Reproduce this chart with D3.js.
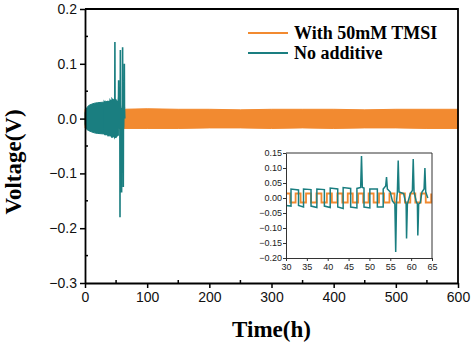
<!DOCTYPE html>
<html>
<head>
<meta charset="utf-8">
<script src="https://cdn.jsdelivr.net/npm/d3@7"></script>
<style>
  body { margin: 0; background: #fff; }
  svg { display: block; }
</style>
</head>
<body>
<svg></svg>
<script>
/*global d3*/

// 系列名称
let seriesNames = ['With 50mM TMSI', 'No additive'];
let colors = ['#F28A30', '#1A7E80'];

// 主图刻度
let xTicks = [0, 100, 200, 300, 400, 500, 600];
let yTicks = [0.2, 0.1, 0.0, -0.1, -0.2, -0.3];

// 主图：加 TMSI 的电压包络 (时间, 上沿, 下沿)
let orangeT = [0, 60, 100, 150, 200, 250, 300, 350, 400, 450, 500, 550, 600];
let orangeHi = [0.017, 0.017, 0.018, 0.017, 0.017, 0.016, 0.017, 0.017, 0.017, 0.016, 0.017, 0.017, 0.017];
let orangeLo = [-0.017, -0.018, -0.018, -0.018, -0.017, -0.017, -0.018, -0.017, -0.018, -0.017, -0.017, -0.018, -0.018];

// 主图：无添加剂的电压包络
let tealT = [0, 1, 3, 6, 10, 15, 20, 30, 40, 46, 50, 53];
let tealHi = [0.010, 0.015, 0.020, 0.024, 0.026, 0.028, 0.029, 0.030, 0.032, 0.035, 0.035, 0.030];
let tealLo = [-0.010, -0.015, -0.020, -0.022, -0.024, -0.026, -0.027, -0.028, -0.030, -0.033, -0.035, -0.030];

// 插图刻度
let insetXTicks = [30, 35, 40, 45, 50, 55, 60, 65];
let insetYTicks = [0.15, 0.10, 0.05, 0.00, -0.05, -0.10, -0.15, -0.20];

// 插图：无添加剂的电压曲线
let insetTealT = [30, 31.2, 31.2, 33.0, 33.0, 34.2, 34.2, 36.0, 36.0, 37.4, 37.4, 39.2, 39.2, 40.6, 40.6, 42.4,
    42.4, 43.7, 43.7, 45.5, 45.5, 47.0, 47.0, 47.9, 48.1, 48.3, 48.7, 48.7, 50.1, 50.1, 51.9, 51.9,
    53.3, 53.3, 53.9, 54.1, 54.3, 55.0, 55.5, 56.1, 56.3, 56.5, 56.7, 56.9, 57.1, 58.2, 58.6, 58.8,
    58.9, 59.1, 59.8, 60.3, 60.5, 60.7, 61.2, 61.5, 61.6, 61.7, 61.8, 62.2, 62.6, 63.1, 63.3, 63.5, 64.0];
let insetTealV = [-0.025, -0.027, 0.030, 0.027, -0.025, -0.030, 0.030, 0.028, -0.027, -0.032, 0.030, 0.028, -0.027, -0.032, 0.033, 0.030,
    -0.030, -0.035, 0.035, 0.032, -0.030, -0.033, 0.032, 0.035, 0.140, 0.035, 0.033, -0.030, -0.033, 0.030, 0.030, -0.030,
    -0.030, 0.030, 0.040, 0.070, 0.030, 0.020, -0.010, -0.020, -0.180, -0.010, 0.020, 0.125, 0.020, 0.015, -0.010, -0.020,
    -0.135, -0.020, 0.015, 0.025, 0.130, 0.020, -0.010, -0.020, -0.125, -0.080, -0.020, -0.015, 0.020, 0.030, 0.100, 0.020, 0.000];

// 插图：加 TMSI 的电压曲线 (阶梯)
let insetOrangeT = [30, 31.0, 32.3, 33.5, 34.8, 36.0, 37.3, 38.5, 39.8, 41.0, 42.3, 43.5, 44.8, 46.0, 47.3, 48.5,
    49.8, 51.0, 52.3, 53.5, 54.8, 56.0, 57.3, 58.5, 59.8, 61.0, 62.3, 63.5, 64.8];
let insetOrangeV = [0.015, -0.015, 0.015, -0.015, 0.015, -0.015, 0.015, -0.015, 0.015, -0.015, 0.015, -0.015, 0.015, -0.015, 0.015, -0.015,
    0.015, -0.015, 0.015, -0.015, 0.015, -0.015, 0.015, -0.015, 0.015, -0.015, 0.015, -0.015, 0.015];

let width = 474;
let height = 345;
let margin = { top: 9, left: 85, right: 16, bottom: 62 };
let innerWidth = width - margin.left - margin.right;
let innerHeight = height - margin.top - margin.bottom;

let svg = d3.select('svg')
    .attr('width', width)
    .attr('height', height);

let x = d3.scaleLinear().domain([0, 600]).range([0, innerWidth]);
let y = d3.scaleLinear().domain([-0.3, 0.2]).range([innerHeight, 0]);

let g = svg.append('g')
    .attr('transform', 'translate(' + margin.left + ',' + margin.top + ')');

// 主图数据
let orangeData = orangeT.map((t, i) => ({ t: t, hi: orangeHi[i], lo: orangeLo[i] }));
let tealData = tealT.map((t, i) => ({ t: t, hi: tealHi[i], lo: tealLo[i] }));
let insetTeal = insetTealT.map((t, i) => ({ t: t, v: insetTealV[i] }));
let insetOrange = insetOrangeT.map((t, i) => ({ t: t, v: insetOrangeV[i] }));

let band = d3.area()
    .x(d => x(d.t))
    .y0(d => y(d.lo))
    .y1(d => y(d.hi));

g.append('path')
    .datum(orangeData)
    .attr('d', band)
    .attr('fill', colors[0])
    .attr('stroke', colors[0])
    .attr('stroke-width', 1);

g.append('path')
    .datum(tealData)
    .attr('d', band)
    .attr('fill', colors[1])
    .attr('stroke', colors[1])
    .attr('stroke-width', 1);

g.append('path')
    .datum(insetTeal)
    .attr('d', d3.line().x(d => x(d.t)).y(d => y(d.v)))
    .attr('fill', 'none')
    .attr('stroke', colors[1])
    .attr('stroke-width', 1.6);

// 坐标轴
let xAxis = g.append('g')
    .attr('transform', 'translate(0,' + innerHeight + ')')
    .call(d3.axisBottom(x).tickValues(xTicks).tickSize(5).tickSizeOuter(0));
let yAxis = g.append('g')
    .call(d3.axisLeft(y).tickValues(yTicks).tickFormat(d3.format('.1f')).tickSize(5).tickSizeOuter(0).tickPadding(3));

// x 轴文字直接定位（不用 dy）
xAxis.selectAll('.tick text')
    .attr('dy', null)
    .attr('y', 19);

[xAxis, yAxis].forEach(a => {
    a.select('.domain').attr('stroke', '#000').attr('stroke-width', 1.8);
    a.selectAll('.tick line').attr('stroke', '#000').attr('stroke-width', 1.5);
    a.selectAll('text')
        .attr('fill', '#111')
        .style('font-family', 'Arial, "Liberation Sans", sans-serif')
        .style('font-size', '14px');
});

// 次刻度
g.append('g').selectAll('line')
    .data([50, 150, 250, 350, 450, 550])
    .enter().append('line')
    .attr('x1', d => x(d)).attr('x2', d => x(d))
    .attr('y1', innerHeight).attr('y2', innerHeight - 3)
    .attr('stroke', '#000').attr('stroke-width', 1.5);
g.append('g').selectAll('line')
    .data([0.15, 0.05, -0.05, -0.15, -0.25])
    .enter().append('line')
    .attr('x1', 0).attr('x2', 3)
    .attr('y1', d => y(d)).attr('y2', d => y(d))
    .attr('stroke', '#000').attr('stroke-width', 1.5);

// 边框
g.append('path')
    .attr('d', 'M0,0H' + innerWidth + 'V' + innerHeight)
    .attr('fill', 'none')
    .attr('stroke', '#000')
    .attr('stroke-width', 1.8);

// 轴标题
svg.append('text')
    .attr('x', margin.left + innerWidth / 2)
    .attr('y', 337)
    .attr('text-anchor', 'middle')
    .style('font-family', '"Liberation Serif", "Times New Roman", serif')
    .style('font-weight', 'bold')
    .style('font-size', '23px')
    .text('Time(h)');

svg.append('text')
    .attr('transform', 'translate(21,162) rotate(-90)')
    .attr('text-anchor', 'middle')
    .style('font-family', '"Liberation Serif", "Times New Roman", serif')
    .style('font-weight', 'bold')
    .style('font-size', '23px')
    .text('Voltage(V)');

// 图例
let legend = svg.append('g')
    .selectAll('g')
    .data(seriesNames)
    .enter()
    .append('g')
    .attr('transform', (d, i) => 'translate(248,' + (33 + i * 20) + ')');
legend.append('line')
    .attr('x1', 0).attr('x2', 40)
    .attr('stroke', (d, i) => colors[i])
    .attr('stroke-width', 2);
legend.append('text')
    .attr('x', 46)
    .attr('y', 6)
    .style('font-family', '"Liberation Serif", "Times New Roman", serif')
    .style('font-weight', 'bold')
    .style('font-size', '18px')
    .text(d => d);

// 插图
let inset = { left: 286, top: 153, width: 146, height: 105 };
let ix = d3.scaleLinear().domain([30, 65]).range([0, inset.width]);
let iy = d3.scaleLinear().domain([-0.2, 0.15]).range([inset.height, 0]);

let ig = svg.append('g')
    .attr('transform', 'translate(' + inset.left + ',' + inset.top + ')');

ig.append('rect')
    .attr('width', inset.width)
    .attr('height', inset.height)
    .attr('fill', '#fff');

let clip = ig.append('clipPath').attr('id', 'insetClip');
clip.append('rect').attr('width', inset.width).attr('height', inset.height);

ig.append('path')
    .datum(insetOrange)
    .attr('clip-path', 'url(#insetClip)')
    .attr('d', d3.line().curve(d3.curveStepAfter).x(d => ix(d.t)).y(d => iy(d.v)))
    .attr('fill', 'none')
    .attr('stroke', colors[0])
    .attr('stroke-width', 1.8);

ig.append('path')
    .datum(insetTeal)
    .attr('clip-path', 'url(#insetClip)')
    .attr('d', d3.line().x(d => ix(d.t)).y(d => iy(d.v)))
    .attr('fill', 'none')
    .attr('stroke', colors[1])
    .attr('stroke-width', 1.5);

let ixAxis = ig.append('g')
    .attr('transform', 'translate(0,' + inset.height + ')')
    .call(d3.axisBottom(ix).tickValues(insetXTicks).tickSize(3).tickSizeOuter(0));
let iyAxis = ig.append('g')
    .call(d3.axisLeft(iy).tickValues(insetYTicks).tickFormat(d3.format('.2f')).tickSize(3).tickSizeOuter(0).tickPadding(1));

ixAxis.selectAll('.tick text')
    .attr('dy', null)
    .attr('y', 12);

[ixAxis, iyAxis].forEach(a => {
    a.select('.domain').attr('stroke', '#333').attr('stroke-width', 1);
    a.selectAll('.tick line').attr('stroke', '#333');
    a.selectAll('text')
        .attr('fill', '#222')
        .style('font-family', 'Arial, "Liberation Sans", sans-serif')
        .style('font-size', '9px');
});

ig.append('path')
    .attr('d', 'M0,0H' + inset.width + 'V' + inset.height)
    .attr('fill', 'none')
    .attr('stroke', '#333')
    .attr('stroke-width', 1);
</script>
</body>
</html>
